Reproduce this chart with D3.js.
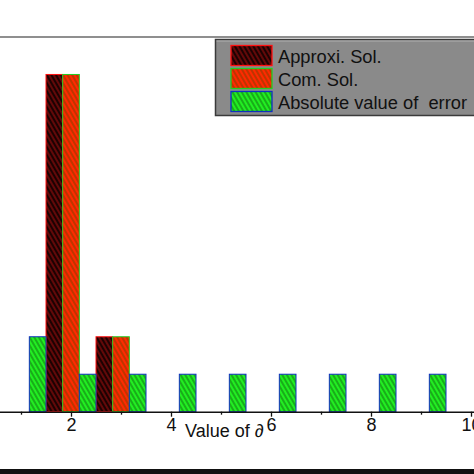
<!DOCTYPE html>
<html>
<head>
<meta charset="utf-8">
<script src="https://cdn.jsdelivr.net/npm/d3@7"></script>
<style>
  body { margin: 0; background: #fff; }
  svg { display: block; font-family: "Liberation Sans", Arial, sans-serif; }
</style>
</head>
<body>
<div id="chart"></div>
<script>
const w = 474;
const h = 474;

// data
const categories = [1, 2, 3, 4, 5, 6, 7, 8, 9];
const approxSol = [0, 9, 2, 0, 0, 0, 0, 0, 0];
const comSol = [0, 9, 2, 0, 0, 0, 0, 0, 0];
const absError = [2, 1, 1, 1, 1, 1, 1, 1, 1];
const seriesNames = ["Approxi. Sol.", "Com. Sol.", "Absolute value of  error"];
const majorTicks = [2, 4, 6, 8, 10];
const minorTicks = [1, 3, 5, 7, 9];

const styles = [
  { id: "hA", bg: "#1c0202", line: "#8a0c0c", border: "#ff1010" },
  { id: "hC", bg: "#ff2a00", line: "#9a3a00", border: "#22cc22" },
  { id: "hE", bg: "#22ee22", line: "#138a13", border: "#1030c0" },
];

const svg = d3
  .select("#chart")
  .append("svg")
  .attr("width", w)
  .attr("height", h);

const defs = svg.append("defs");
styles.forEach((s) => {
  const p = defs
    .append("pattern")
    .attr("id", s.id)
    .attr("patternUnits", "userSpaceOnUse")
    .attr("width", 4)
    .attr("height", 10)
    .attr("patternTransform", "rotate(-30)");
  p.append("rect").attr("width", 4).attr("height", 10).attr("fill", s.bg);
  p.append("line")
    .attr("x1", 1)
    .attr("x2", 1)
    .attr("y1", 0)
    .attr("y2", 10)
    .attr("stroke", s.line)
    .attr("stroke-width", 1.3);
});

const x = d3.scaleLinear().domain([0, 11]).range([-29, 521]);
const y = d3.scaleLinear().domain([0, 10]).range([411.7, 37]);

// frame bits
svg.append("line")
  .attr("x1", 0).attr("x2", w)
  .attr("y1", 37).attr("y2", 37)
  .attr("stroke", "#6a6a6a")
  .attr("stroke-width", 1.6);
svg.append("rect")
  .attr("x", 0).attr("y", 469)
  .attr("width", w).attr("height", 5)
  .attr("fill", "#111");

// bars
const series = [approxSol, comSol, absError];
const offsets = [-1 / 3, 0, 1 / 3];
const bw = 1 / 3;

series.forEach((vals, k) => {
  const data = categories
    .map((c, i) => ({ c: c, v: vals[i] }))
    .filter((d) => d.v > 0);
  svg
    .append("g")
    .selectAll("rect")
    .data(data)
    .enter()
    .append("rect")
    .attr("x", (d) => x(d.c + offsets[k] - bw / 2))
    .attr("y", (d) => y(d.v))
    .attr("width", (d) => x(d.c + offsets[k] + bw / 2) - x(d.c + offsets[k] - bw / 2))
    .attr("height", (d) => y(0) - y(d.v))
    .attr("fill", "url(#" + styles[k].id + ")")
    .attr("stroke", styles[k].border)
    .attr("stroke-width", 1);
});

// x axis
const xAxis = d3
  .axisBottom(x)
  .tickValues(majorTicks)
  .tickSize(5)
  .tickSizeOuter(0)
  .tickPadding(2)
  .tickFormat(d3.format("d"));
const gx = svg
  .append("g")
  .attr("transform", "translate(0," + y(0) + ")")
  .call(xAxis);
gx.select(".domain").attr("stroke", "#111").attr("stroke-width", 1.6);
gx.selectAll(".tick line").attr("stroke", "#111").attr("stroke-width", 1.3);
gx.selectAll(".tick text")
  .attr("font-size", 18)
  .attr("font-family", "Liberation Sans, Arial, sans-serif")
  .attr("fill", "#111");

const gm = svg
  .append("g")
  .attr("transform", "translate(0," + y(0) + ")")
  .call(d3.axisBottom(x).tickValues(minorTicks).tickSize(3).tickFormat(""));
gm.select(".domain").remove();
gm.selectAll(".tick line").attr("stroke", "#111").attr("stroke-width", 1.3);

svg.append("text")
  .attr("x", 185)
  .attr("y", 437)
  .attr("font-size", 18)
  .attr("fill", "#111")
  .text("Value of \u2202");

// legend
const lg = svg.append("g");
lg.append("rect")
  .attr("x", 215.5).attr("y", 39.5)
  .attr("width", 270).attr("height", 76)
  .attr("fill", "#8a8a8a")
  .attr("stroke", "#3a3a3a")
  .attr("stroke-width", 1.5);
lg.append("line")
  .attr("x1", 216.5).attr("x2", w)
  .attr("y1", 41).attr("y2", 41)
  .attr("stroke", "#b0b0b0")
  .attr("stroke-width", 1.2);

const rows = lg
  .selectAll("g.row")
  .data(seriesNames)
  .enter()
  .append("g")
  .attr("class", "row")
  .attr("transform", (d, i) => "translate(231," + (45.5 + i * 23) + ")");
rows.append("rect")
  .attr("width", 41)
  .attr("height", 20)
  .attr("fill", (d, i) => "url(#" + styles[i].id + ")")
  .attr("stroke", (d, i) => styles[i].border)
  .attr("stroke-width", 1.3);
rows.append("text")
  .attr("x", 47)
  .attr("y", 17.5)
  .attr("font-size", 18.3)
  .attr("fill", "#111")
  .style("white-space", "pre")
  .text((d) => d);
</script>
</body>
</html>
